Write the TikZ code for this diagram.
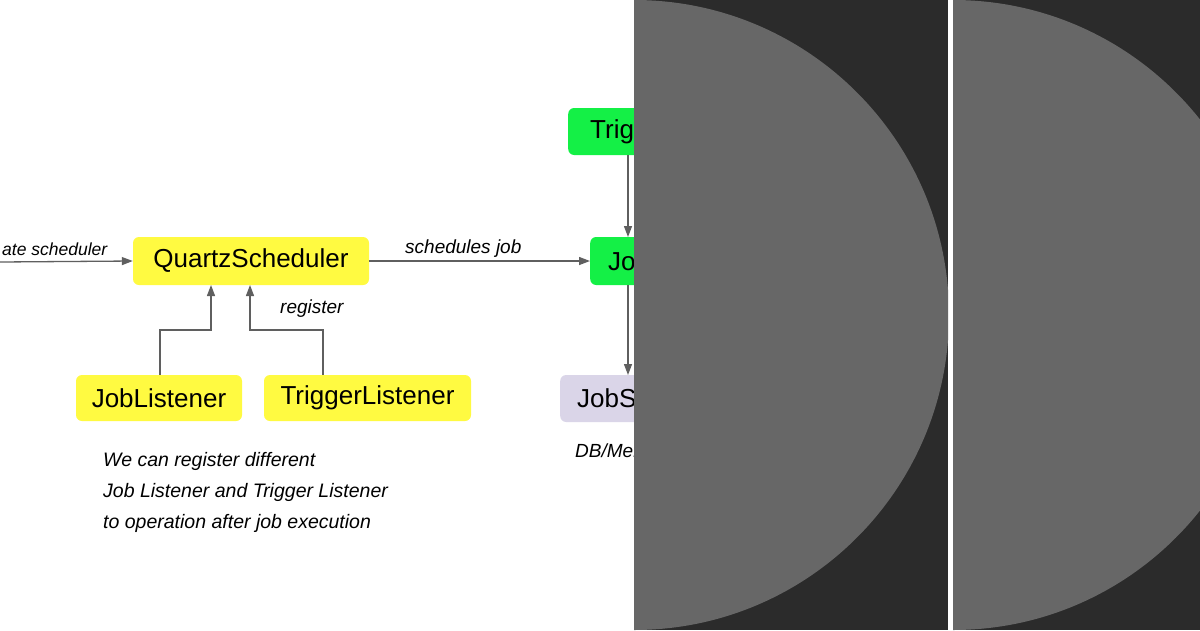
\documentclass[tikz,border=0pt]{standalone}
\usepackage{fontspec}
\setmainfont{Liberation Sans}
\usetikzlibrary{arrows.meta}
\definecolor{ylw}{RGB}{255,250,65}
\definecolor{grn}{RGB}{20,240,70}
\definecolor{lav}{RGB}{218,213,232}
\definecolor{ln}{RGB}{95,95,95}
\definecolor{panel}{RGB}{43,43,43}
\definecolor{disc}{RGB}{103,103,103}
\begin{document}
\begin{tikzpicture}[x=1pt,y=-1pt,
  box/.style={rounded corners=6pt,inner sep=0pt,font=\fontsize{26}{30}\selectfont},
  lbox/.style={box,align=left,anchor=west},
  conn/.style={draw=ln,line width=1.3pt,-{Triangle[length=11pt,width=8pt]}},
  hand/.style={font=\fontsize{19}{22}\selectfont\itshape,inner sep=0pt}]
\useasboundingbox (0,0) rectangle (1200,630);
\fill[white] (0,0) rectangle (1200,630);
\begin{scope}
\clip (0,0) rectangle (1200,630);
% nodes
\node[box,fill=ylw,minimum width=236pt,minimum height=48pt] (qs) at (251,261) {QuartzScheduler};
\node[box,fill=ylw,minimum width=166pt,minimum height=46pt] (jl) at (159,398) {JobListener};
\node[box,fill=ylw,minimum width=207pt,minimum height=46pt] (tl) at (367.5,398) {TriggerListener};
\node[lbox,fill=grn,text width=120pt,minimum height=47pt] (tr) at (568,131.5) {\hspace*{22pt}Trigger};
\node[lbox,fill=grn,text width=100pt,minimum height=48pt] (job) at (590,261) {\hspace*{18pt}Job};
\node[lbox,fill=lav,text width=140pt,minimum height=47pt] (js) at (560,398.5) {\hspace*{17pt}JobStore};
\coordinate (start) at (0,262);
\coordinate (jlb) at (160,330);
\coordinate (tlb) at (323,330);
% connectors
\draw[conn] (start) -- (qs.west);
\draw[conn] (qs.east) -- (job.west);
\draw[conn] (jl.north -| jlb) -- (jlb) -- ++(51,0) -- (211,285);
\draw[conn] (tl.north -| tlb) -- (tlb) -- ++(-73,0) -- (250,285);
\draw[conn] (628,155) -- (628,237);
\draw[conn] (628,285) -- (628,375);
% labels
\node[hand,anchor=west,font=\fontsize{17.5}{20}\selectfont\itshape] (l1) at (2,249) {ate scheduler};
\node[hand,anchor=west] (l2) at (405,249) {schedules job};
\node[hand,anchor=west] (l3) at (280,309) {register};
\node[hand,anchor=west] (l4) at (575,453) {DB/Memory};
\node[hand,anchor=north west,align=left,font=\fontsize{19.5}{31}\selectfont\itshape] (note) at (103,452)
 {We can register different\\Job Listener and Trigger Listener\\to operation after job execution};
% panels
\fill[panel] (634,0) rectangle (948,630);
\begin{scope}
\clip (634,0) rectangle (948,630);
\fill[disc] (634,315) circle (315);
\end{scope}
\fill[panel] (953,0) rectangle (1200,630);
\begin{scope}
\clip (953,0) rectangle (1200,630);
\fill[disc] (953,315) circle (315);
\end{scope}
\end{scope}
\end{tikzpicture}
\end{document}
